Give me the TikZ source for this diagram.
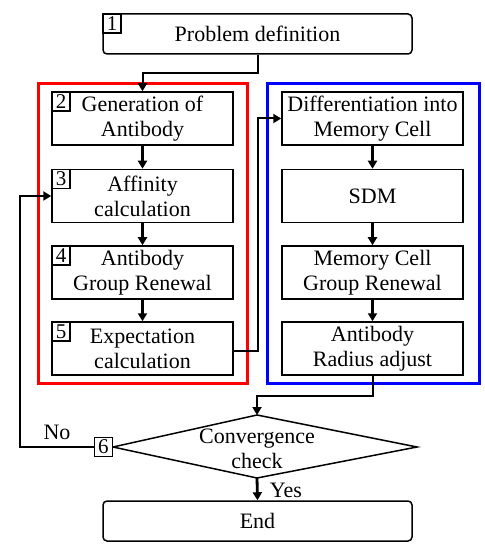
\documentclass[tikz,border=0pt]{standalone}
\usepackage{fontspec}
\setmainfont{Liberation Serif}
\usetikzlibrary{arrows.meta}
\begin{document}
\begin{tikzpicture}[x=0.5pt,y=-0.5pt,
  box/.style={draw,line width=0.75pt,minimum width=90.5pt,minimum height=26.5pt,
    inner sep=0pt,align=center,font=\fontsize{11}{12.5}\selectfont},
  term/.style={box,rounded corners=2pt,minimum width=154.5pt,minimum height=20pt},
  num/.style={draw,fill=white,line width=0.75pt,minimum width=9pt,minimum height=9.5pt,
    inner sep=0pt,anchor=north west,font=\fontsize{10.5}{10.5}\selectfont},
  flow/.style={line width=1pt,-{Triangle[length=4pt,width=4.5pt]}},
  stepline/.style={line width=1.4pt,-{Triangle[length=4pt,width=4.5pt]}}]

        \useasboundingbox (0,0) rectangle (485,550);

        % group frames
        \draw[red,line width=1.5pt]  (38,84)  rectangle (247,383);
        \draw[blue,line width=1.5pt] (267,84) rectangle (479,383);

        \begin{scope}[every node/.style={box}]
          \node[term] (pd)  at (257.5,34)  {Problem definition};
          \node (gen) at (142.5,118.5) {Generation of\\Antibody};
          \node (aff) at (142.5,196)   {Affinity\\calculation};
          \node (agr) at (142.5,272.5) {Antibody\\Group Renewal};
          \node (exp) at (142.5,348.5) {Expectation\\calculation};
          \node (dmc) at (372.5,118.5) {Differentiation into\\Memory Cell};
          \node (sdm) at (372.5,196)   {SDM};
          \node (mgr) at (372.5,272.5) {Memory Cell\\Group Renewal};
          \node (rad) at (372.5,348.5) {Antibody\\Radius adjust};
          \node[term] (end) at (257.5,521) {End};
        \end{scope}

        % convergence check
        \coordinate (ct) at (257,415);
        \coordinate (cr) at (417,447);
        \coordinate (cb) at (257,478);
        \coordinate (cl) at (113,447);
        \draw[line width=0.75pt] (ct) -- (cr) -- (cb) -- (cl) -- cycle;
        \node[align=center,font=\fontsize{11}{12.5}\selectfont] (chk) at (257,449) {Convergence\\check};

        \begin{scope}[every node/.style={num}]
          \node (n1) at (pd.north west)  {1};
          \node (n2) at (gen.north west) {2};
          \node (n3) at (aff.north west) {3};
          \node (n4) at (agr.north west) {4};
          \node (n5) at (exp.north west) {5};
          \node[anchor=east] (n6) at (cl) {6};
        \end{scope}

        \draw[flow] (pd.south) -- ++(0,18) -| (gen.north);
        \draw[stepline] (gen.south) -- (aff.north);
        \draw[stepline] (aff.south) -- (agr.north);
        \draw[stepline] (agr.south) -- (exp.north);
        \draw[stepline] (dmc.south) -- (sdm.north);
        \draw[stepline] (sdm.south) -- (mgr.north);
        \draw[stepline] (mgr.south) -- (rad.north);
        \draw[flow] ([yshift=-1pt]exp.east) -- ++(24,0) |- (dmc.west);
        \draw[flow] (rad.south) -- ++(0,20) -| (ct);
        \draw[flow] (n6.west) -- ++(-74,0) |- (aff.west);
        \draw[stepline] (cb) -- (end.north);

        \node[font=\fontsize{11}{11}\selectfont] (no)  at (57,432)  {No};
        \node[font=\fontsize{11}{11}\selectfont] (yes) at (286,490) {Yes};

      \end{tikzpicture}
\end{document}
